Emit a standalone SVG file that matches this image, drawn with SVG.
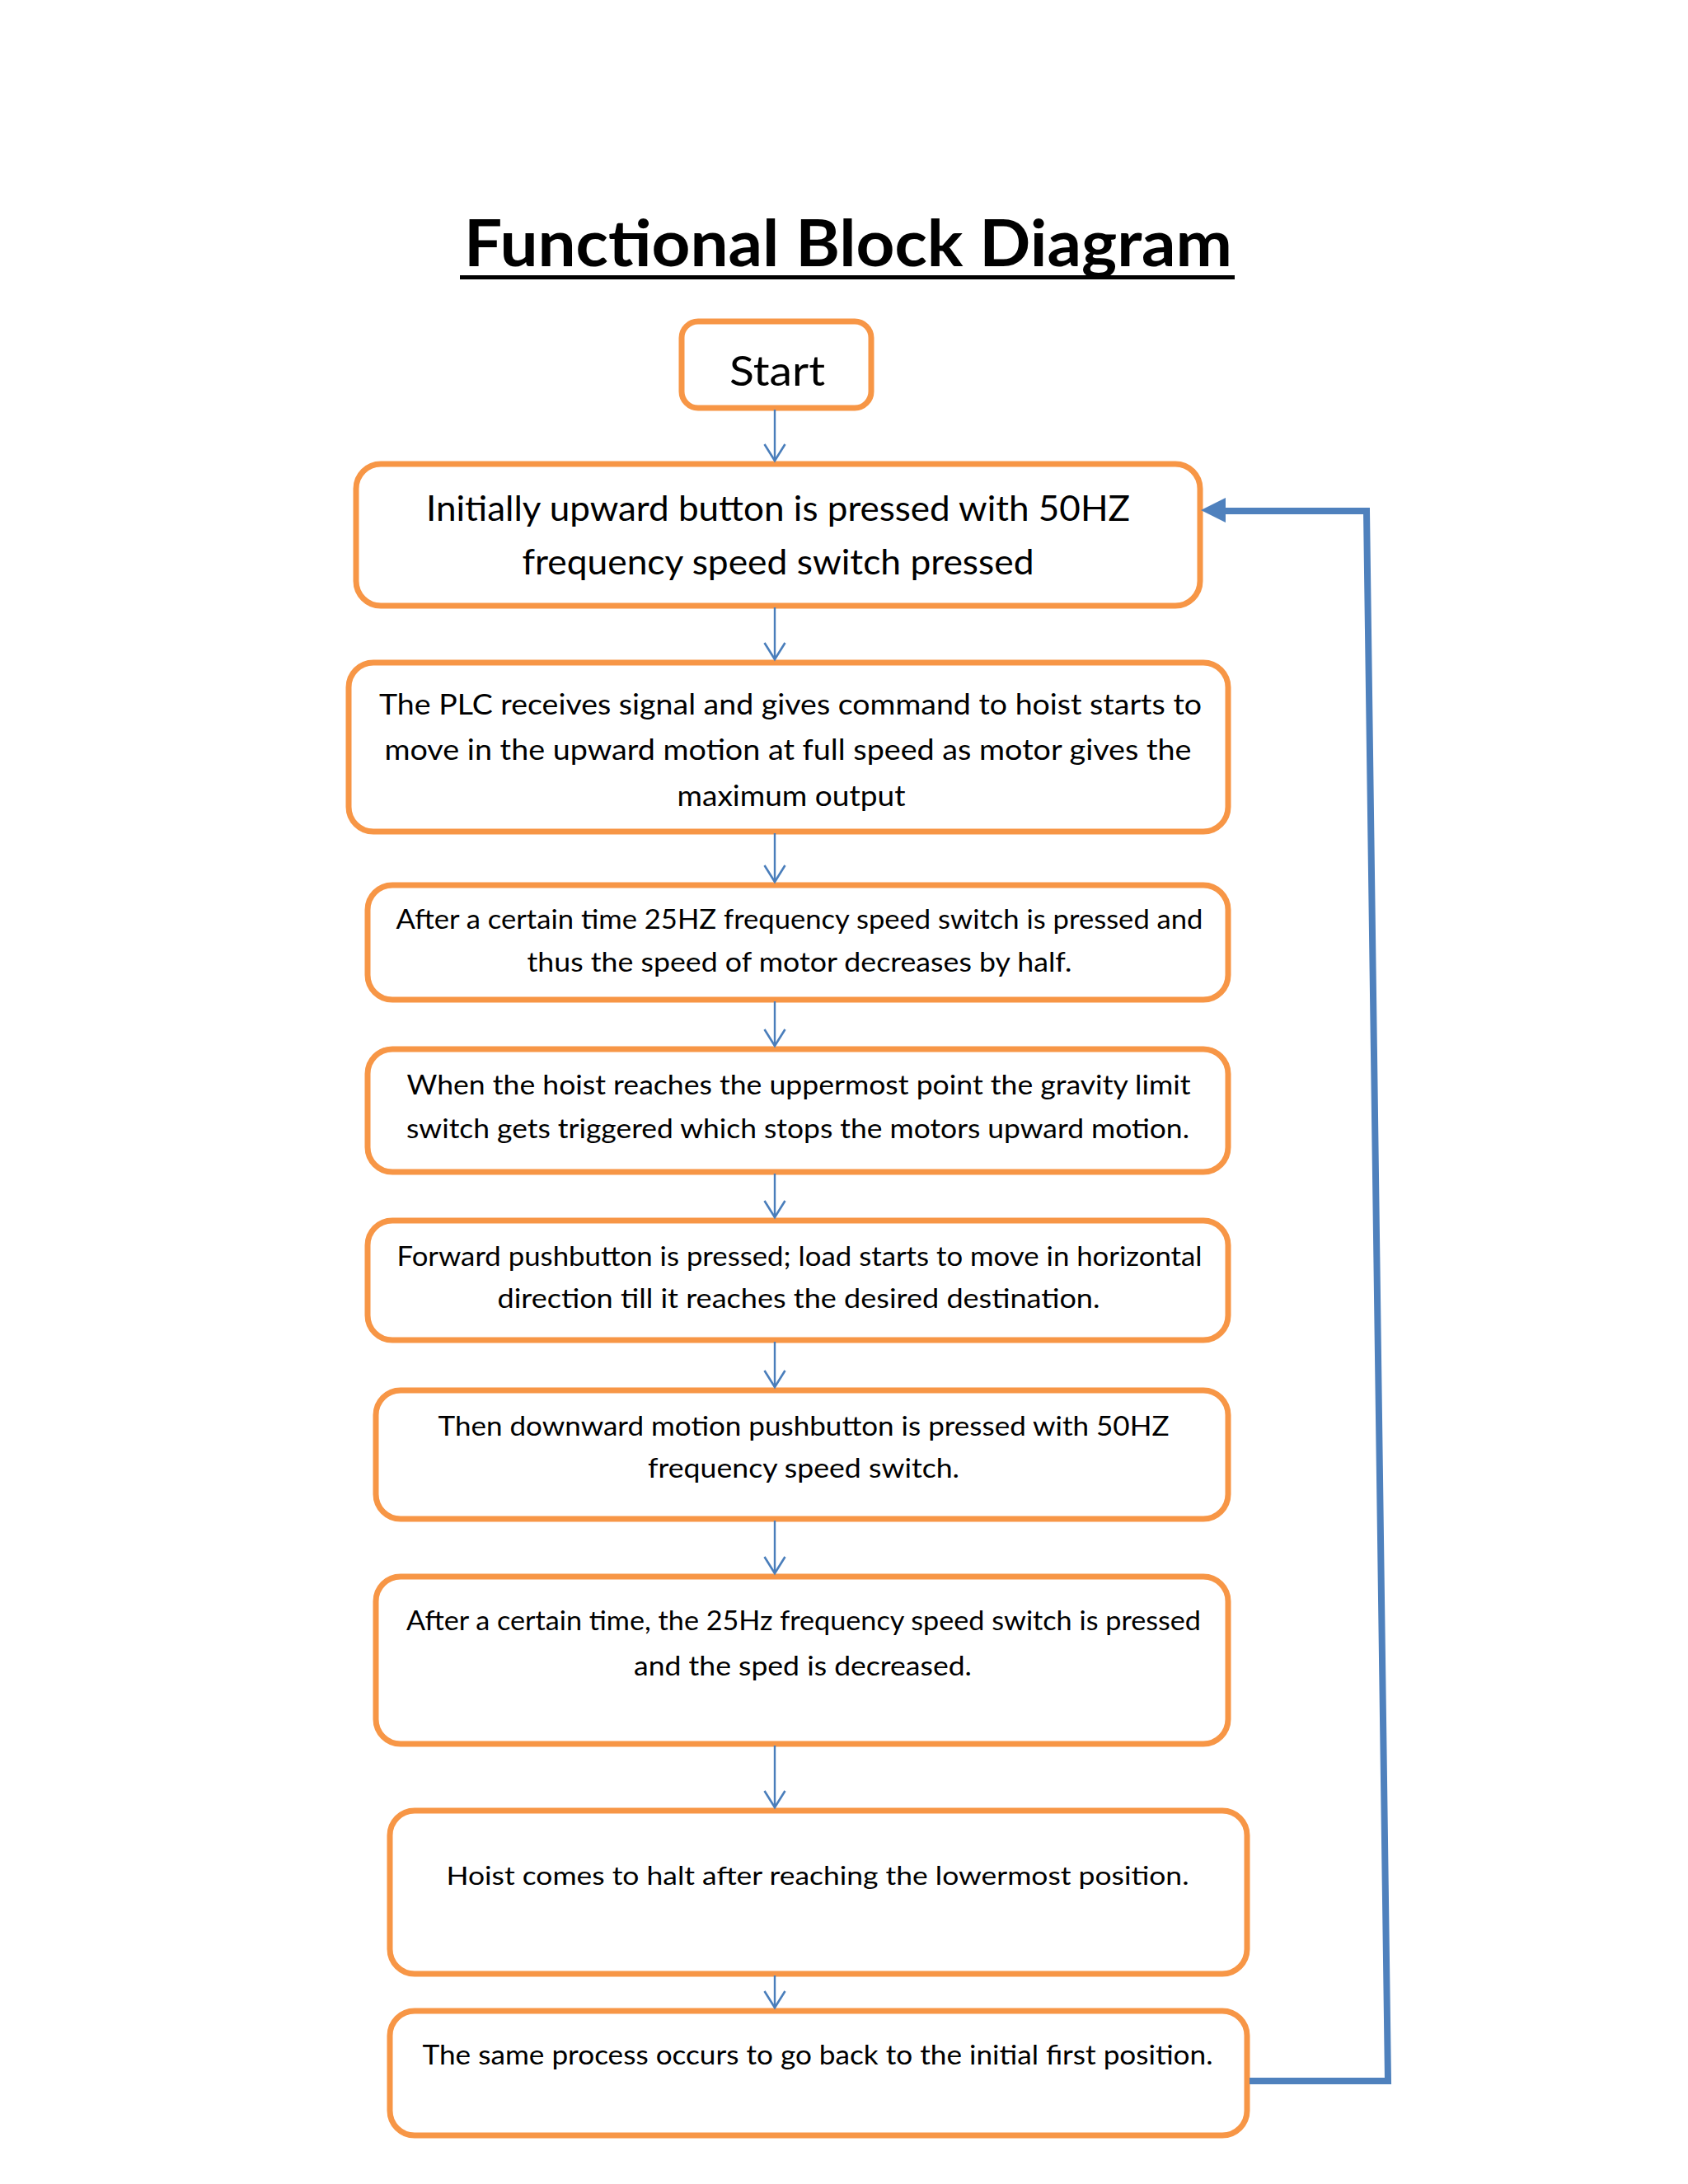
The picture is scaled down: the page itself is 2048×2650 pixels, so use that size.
<svg xmlns="http://www.w3.org/2000/svg" width="2048" height="2650" viewBox="0 0 2048 2650">
<defs>
<style>
.box{fill:#ffffff;stroke:#F79646;stroke-width:7}
.t{font-family:Lato,"Liberation Sans",sans-serif;fill:#000;text-anchor:middle}
.title{font-family:Lato,"Liberation Sans",sans-serif;font-weight:bold;fill:#000;text-anchor:middle}
.link{fill:none;stroke:#4A7EBB;stroke-width:2.4}
.loop{fill:none;stroke:#4F81BD;stroke-width:8;stroke-linejoin:miter}
</style>
<marker id="v" markerUnits="userSpaceOnUse" viewBox="-24 -15 26 30" refX="0" refY="0" markerWidth="26" markerHeight="30" orient="auto" overflow="visible">
<path d="M-20,-12.5 L0,0 L-20,12.5" fill="none" stroke="#4A7EBB" stroke-width="2.6"/>
</marker>
</defs>
<rect width="2048" height="2650" fill="#ffffff"/>

<g id="title">
<text class="title" x="1029" y="323" font-size="78" textLength="932" lengthAdjust="spacingAndGlyphs">Functional Block Diagram</text>
<rect x="558" y="334" width="940" height="5" fill="#000"/>
</g>

<g id="start">
<rect class="box" x="827" y="390" width="230" height="105" rx="20"/>
<text class="t" x="943" y="468" font-size="50" textLength="116" lengthAdjust="spacingAndGlyphs">Start</text>
</g>

<g id="n1">
<rect class="box" x="432" y="563" width="1024" height="172" rx="30"/>
<text class="t" x="944" y="632" font-size="42" textLength="854" lengthAdjust="spacingAndGlyphs">Initially upward button is pressed with 50HZ</text>
<text class="t" x="944" y="697" font-size="42" textLength="621" lengthAdjust="spacingAndGlyphs">frequency speed switch pressed</text>
</g>

<g id="n2">
<rect class="box" x="423" y="804" width="1067" height="205" rx="30"/>
<text class="t" x="959" y="867" font-size="35" textLength="998" lengthAdjust="spacingAndGlyphs">The PLC receives signal and gives command to hoist starts to</text>
<text class="t" x="956" y="922" font-size="35" textLength="979" lengthAdjust="spacingAndGlyphs">move in the upward motion at full speed as motor gives the</text>
<text class="t" x="960" y="978" font-size="35" textLength="277" lengthAdjust="spacingAndGlyphs">maximum output</text>
</g>

<g id="n3">
<rect class="box" x="446" y="1074" width="1044" height="139" rx="30"/>
<text class="t" x="970" y="1127" font-size="33" textLength="979" lengthAdjust="spacingAndGlyphs">After a certain time 25HZ frequency speed switch is pressed and</text>
<text class="t" x="970" y="1179" font-size="33" textLength="661" lengthAdjust="spacingAndGlyphs">thus the speed of motor decreases by half.</text>
</g>

<g id="n4">
<rect class="box" x="446" y="1273" width="1044" height="149" rx="30"/>
<text class="t" x="969" y="1328" font-size="33" textLength="951" lengthAdjust="spacingAndGlyphs">When the hoist reaches the uppermost point the gravity limit</text>
<text class="t" x="968" y="1381" font-size="33" textLength="950" lengthAdjust="spacingAndGlyphs">switch gets triggered which stops the motors upward motion.</text>
</g>

<g id="n5">
<rect class="box" x="446" y="1481" width="1044" height="145" rx="30"/>
<text class="t" x="970" y="1536" font-size="32" textLength="977" lengthAdjust="spacingAndGlyphs">Forward pushbutton is pressed; load starts to move in horizontal</text>
<text class="t" x="969" y="1587" font-size="32" textLength="731" lengthAdjust="spacingAndGlyphs">direction till it reaches the desired destination.</text>
</g>

<g id="n6">
<rect class="box" x="456" y="1687" width="1034" height="156" rx="30"/>
<text class="t" x="975" y="1742" font-size="32" textLength="887" lengthAdjust="spacingAndGlyphs">Then downward motion pushbutton is pressed with 50HZ</text>
<text class="t" x="975" y="1793" font-size="32" textLength="378" lengthAdjust="spacingAndGlyphs">frequency speed switch.</text>
</g>

<g id="n7">
<rect class="box" x="456" y="1913" width="1034" height="203" rx="30"/>
<text class="t" x="975" y="1978" font-size="32" textLength="964" lengthAdjust="spacingAndGlyphs">After a certain time, the 25Hz frequency speed switch is pressed</text>
<text class="t" x="974" y="2033" font-size="32" textLength="410" lengthAdjust="spacingAndGlyphs">and the sped is decreased.</text>
</g>

<g id="n8">
<rect class="box" x="473" y="2197" width="1040" height="198" rx="30"/>
<text class="t" x="992" y="2287" font-size="31" textLength="901" lengthAdjust="spacingAndGlyphs">Hoist comes to halt after reaching the lowermost position.</text>
</g>

<g id="n9">
<rect class="box" x="473" y="2440" width="1040" height="151" rx="30"/>
<text class="t" x="992" y="2505" font-size="32" textLength="959" lengthAdjust="spacingAndGlyphs">The same process occurs to go back to the initial first position.</text>
</g>

<g id="connectors">
<line class="link" x1="940" y1="497" x2="940" y2="559" marker-end="url(#v)"/>
<line class="link" x1="940" y1="737" x2="940" y2="800" marker-end="url(#v)"/>
<line class="link" x1="940" y1="1011" x2="940" y2="1070" marker-end="url(#v)"/>
<line class="link" x1="940" y1="1215" x2="940" y2="1269" marker-end="url(#v)"/>
<line class="link" x1="940" y1="1424" x2="940" y2="1477" marker-end="url(#v)"/>
<line class="link" x1="940" y1="1628" x2="940" y2="1683" marker-end="url(#v)"/>
<line class="link" x1="940" y1="1845" x2="940" y2="1909" marker-end="url(#v)"/>
<line class="link" x1="940" y1="2118" x2="940" y2="2193" marker-end="url(#v)"/>
<line class="link" x1="940" y1="2397" x2="940" y2="2436" marker-end="url(#v)"/>
<polyline class="loop" points="1516,2525 1684,2525 1658,620 1484,620"/>
<polygon points="1457,619 1487,604 1487,634" fill="#4F81BD"/>
</g>
</svg>
